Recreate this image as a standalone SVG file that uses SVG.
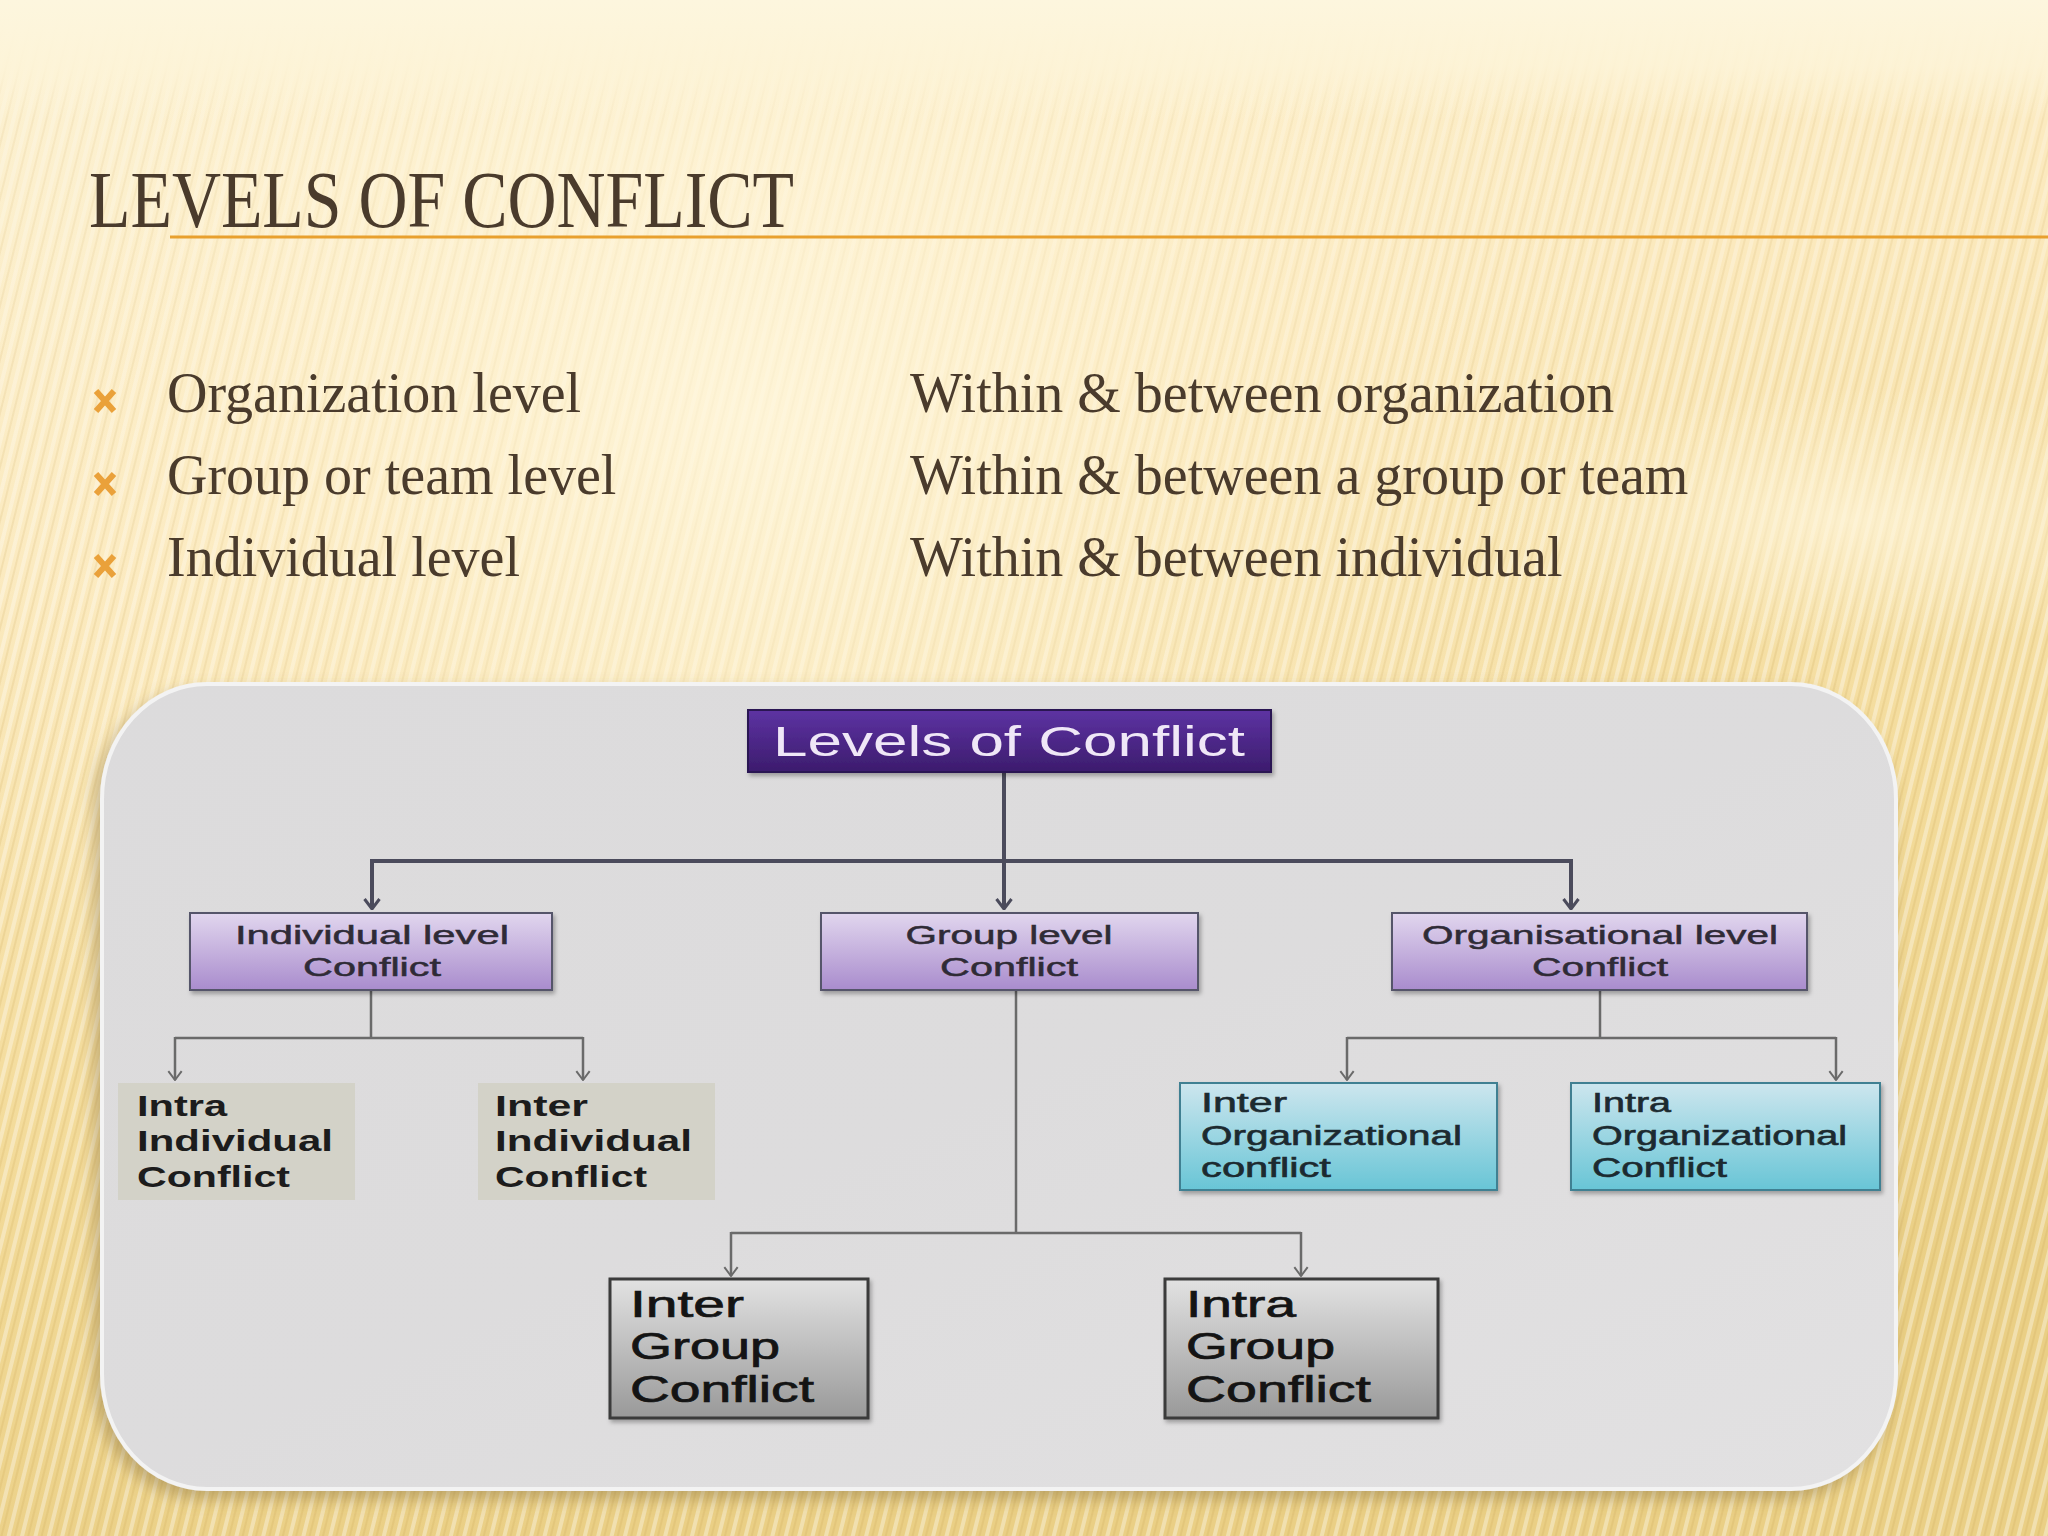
<svg xmlns="http://www.w3.org/2000/svg" width="2048" height="1536" viewBox="0 0 2048 1536">
  <defs>
    <linearGradient id="bgGrad" x1="0" y1="0" x2="0.25" y2="1">
      <stop offset="0" stop-color="#fdf5dc"/>
      <stop offset="0.07" stop-color="#fcf0cf"/>
      <stop offset="0.35" stop-color="#fbe9bd"/>
      <stop offset="0.7" stop-color="#f3db9a"/>
      <stop offset="1" stop-color="#eacf85"/>
    </linearGradient>
    <linearGradient id="topBand" x1="0" y1="0" x2="0" y2="1">
      <stop offset="0" stop-color="#fdf6de" stop-opacity="1"/>
      <stop offset="0.55" stop-color="#fdf4d8" stop-opacity="0.85"/>
      <stop offset="1" stop-color="#fdf4d8" stop-opacity="0"/>
    </linearGradient>
    <radialGradient id="glow" cx="750" cy="420" r="900" gradientUnits="userSpaceOnUse">
      <stop offset="0" stop-color="#fff8e0" stop-opacity="0.75"/>
      <stop offset="0.6" stop-color="#fff4d6" stop-opacity="0.25"/>
      <stop offset="1" stop-color="#fff4d6" stop-opacity="0"/>
    </radialGradient>
    <radialGradient id="swoosh" cx="1850" cy="520" r="380" gradientUnits="userSpaceOnUse" gradientTransform="translate(1850 520) scale(1 0.35) translate(-1850 -520)">
      <stop offset="0" stop-color="#fff6dc" stop-opacity="0.7"/>
      <stop offset="1" stop-color="#fff6dc" stop-opacity="0"/>
    </radialGradient>
    <pattern id="stripes" width="13" height="60" patternUnits="userSpaceOnUse" patternTransform="rotate(14)">
      <line x1="3" y1="0" x2="3" y2="60" stroke="#ffffff" stroke-width="4" stroke-opacity="0.35"/>
      <line x1="9" y1="0" x2="9" y2="60" stroke="#c9a24e" stroke-width="2" stroke-opacity="0.18"/>
    </pattern>
    <linearGradient id="stripeFade" x1="0" y1="0" x2="0" y2="1">
      <stop offset="0" stop-color="#fff" stop-opacity="0"/>
      <stop offset="0.06" stop-color="#fff" stop-opacity="0.6"/>
      <stop offset="0.4" stop-color="#fff" stop-opacity="1"/>
      <stop offset="1" stop-color="#fff" stop-opacity="1"/>
    </linearGradient>
    <mask id="stripeMask">
      <rect x="0" y="0" width="2048" height="1536" fill="url(#stripeFade)"/>
    </mask>
    <linearGradient id="panelGrad" x1="0" y1="0" x2="1" y2="1">
      <stop offset="0" stop-color="#dcdbdc"/>
      <stop offset="0.5" stop-color="#dddcdd"/>
      <stop offset="1" stop-color="#e2e1e2"/>
    </linearGradient>
    <filter id="panelShadow" x="-5%" y="-5%" width="110%" height="112%">
      <feGaussianBlur in="SourceAlpha" stdDeviation="8"/>
      <feOffset dx="-6" dy="8" result="b"/>
      <feFlood flood-color="#8a7340" flood-opacity="0.45"/>
      <feComposite in2="b" operator="in"/>
      <feMerge><feMergeNode/><feMergeNode in="SourceGraphic"/></feMerge>
    </filter>
    <filter id="boxShadow" x="-5%" y="-10%" width="115%" height="130%">
      <feGaussianBlur in="SourceAlpha" stdDeviation="2"/>
      <feOffset dx="2" dy="3" result="b"/>
      <feFlood flood-color="#000" flood-opacity="0.3"/>
      <feComposite in2="b" operator="in"/>
      <feMerge><feMergeNode/><feMergeNode in="SourceGraphic"/></feMerge>
    </filter>
    <linearGradient id="topGrad" x1="0" y1="0" x2="0" y2="1">
      <stop offset="0" stop-color="#5d33a3"/>
      <stop offset="1" stop-color="#3c1c6d"/>
    </linearGradient>
    <linearGradient id="lvlGrad" x1="0" y1="0" x2="0" y2="1">
      <stop offset="0" stop-color="#e1d6ee"/>
      <stop offset="1" stop-color="#a98ccd"/>
    </linearGradient>
    <linearGradient id="orgGrad" x1="0" y1="0" x2="0" y2="1">
      <stop offset="0" stop-color="#cde6ee"/>
      <stop offset="1" stop-color="#68c5d6"/>
    </linearGradient>
    <linearGradient id="grpGrad" x1="0" y1="0" x2="0" y2="1">
      <stop offset="0" stop-color="#e2e2e2"/>
      <stop offset="1" stop-color="#999999"/>
    </linearGradient>
    <marker id="arrowBig" viewBox="0 0 12 18" refX="11" refY="9" markerWidth="12" markerHeight="18" markerUnits="userSpaceOnUse" orient="auto">
      <path d="M1,1.5 L11,9 L1,16.5" fill="none" stroke="#4b4b5c" stroke-width="3"/>
    </marker>
    <marker id="arrowSmall" viewBox="0 0 12 18" refX="11" refY="9" markerWidth="11" markerHeight="16" markerUnits="userSpaceOnUse" orient="auto">
      <path d="M1,1.5 L11,9 L1,16.5" fill="none" stroke="#6a6a6a" stroke-width="2.2"/>
    </marker>
    <style>
      .slide { font-family: "Liberation Serif", "Times New Roman", serif; fill: #4a3b2c; }
      .bullet { stroke: #eaa13a; stroke-width: 6; stroke-linecap: butt; }
      .lbl { font-family: "Liberation Sans", Arial, sans-serif; }
      .top-t { fill: #efe7f7; font-size: 42px; font-weight: 400; }
      .lvl-t { fill: #2f2b36; stroke: #2f2b36; stroke-width: 0.5; font-size: 26px; font-weight: 400; text-anchor: middle; }
      .ind-t { fill: #1c1c1c; font-size: 30px; font-weight: 700; }
      .org-t { fill: #1c2a30; stroke: #1c2a30; stroke-width: 0.6; font-size: 27px; font-weight: 400; }
      .grp-t { fill: #141414; stroke: #141414; stroke-width: 0.7; font-size: 36px; font-weight: 400; }
      .c-main { fill: none; stroke: #4b4b5c; stroke-width: 4; }
      .c-sub { fill: none; stroke: #6a6a6a; stroke-width: 2.5; }
    </style>
  </defs>

  <!-- Background -->
  <rect x="0" y="0" width="2048" height="1536" fill="url(#bgGrad)"/>
  <rect x="0" y="0" width="2048" height="1536" fill="url(#stripes)" mask="url(#stripeMask)"/>
  <rect x="0" y="0" width="2048" height="1536" fill="url(#glow)"/>
  <rect x="0" y="0" width="2048" height="1536" fill="url(#swoosh)"/>
  <rect x="0" y="0" width="2048" height="120" fill="url(#topBand)"/>

  <!-- Title -->
  <g id="title">
    <text class="slide" x="89" y="227" font-size="80" textLength="705" lengthAdjust="spacingAndGlyphs">LEVELS OF CONFLICT</text>
    <line x1="170" y1="237" x2="2048" y2="237" stroke="#e8a02e" stroke-width="3"/>
  </g>

  <!-- Bullets -->
  <g id="bullets">
    <path class="bullet" d="M96,391 L114,411 M114,391 L96,411"/>
    <path class="bullet" d="M96,474 L114,494 M114,474 L96,494"/>
    <path class="bullet" d="M96,556 L114,576 M114,556 L96,576"/>
    <text class="slide" x="167" y="412" font-size="56">Organization level</text>
    <text class="slide" x="167" y="494" font-size="56">Group or team level</text>
    <text class="slide" x="167" y="576" font-size="56">Individual level</text>
    <text class="slide" x="910" y="412" font-size="56">Within &amp; between organization</text>
    <text class="slide" x="910" y="494" font-size="56">Within &amp; between a group or team</text>
    <text class="slide" x="910" y="576" font-size="56">Within &amp; between individual</text>
  </g>

  <!-- Panel -->
  <g id="panel">
    <rect x="102" y="684" width="1794" height="805" rx="105" ry="115" fill="url(#panelGrad)" stroke="#f3f3f3" stroke-width="4" filter="url(#panelShadow)"/>
  </g>

  <!-- Connectors -->
  <g id="connectors">
    <path class="c-main" d="M1004,772 V909" marker-end="url(#arrowBig)"/>
    <path class="c-main" d="M372,861 H1571"/>
    <path class="c-main" d="M372,859 V909" marker-end="url(#arrowBig)"/>
    <path class="c-main" d="M1571,859 V909" marker-end="url(#arrowBig)"/>

    <path class="c-sub" d="M371,990 V1038"/>
    <path class="c-sub" d="M175,1038 H583"/>
    <path class="c-sub" d="M175,1037 V1080" marker-end="url(#arrowSmall)"/>
    <path class="c-sub" d="M583,1037 V1080" marker-end="url(#arrowSmall)"/>

    <path class="c-sub" d="M1016,990 V1233"/>
    <path class="c-sub" d="M731,1233 H1301"/>
    <path class="c-sub" d="M731,1232 V1276" marker-end="url(#arrowSmall)"/>
    <path class="c-sub" d="M1301,1232 V1276" marker-end="url(#arrowSmall)"/>

    <path class="c-sub" d="M1600,990 V1038"/>
    <path class="c-sub" d="M1347,1038 H1836"/>
    <path class="c-sub" d="M1347,1037 V1080" marker-end="url(#arrowSmall)"/>
    <path class="c-sub" d="M1836,1037 V1080" marker-end="url(#arrowSmall)"/>
  </g>

  <!-- Nodes -->
  <g id="node-root">
    <rect x="748" y="710" width="523" height="62" fill="url(#topGrad)" stroke="#2c1552" stroke-width="2" filter="url(#boxShadow)"/>
    <text class="lbl top-t" x="773" y="756" textLength="472" lengthAdjust="spacingAndGlyphs">Levels of Conflict</text>
  </g>

  <g id="node-individual">
    <rect x="190" y="913" width="362" height="77" fill="url(#lvlGrad)" stroke="#55556a" stroke-width="2" filter="url(#boxShadow)"/>
    <text class="lbl lvl-t" x="372" y="944" textLength="274" lengthAdjust="spacingAndGlyphs">Individual level</text>
    <text class="lbl lvl-t" x="372" y="976" textLength="138" lengthAdjust="spacingAndGlyphs">Conflict</text>
  </g>

  <g id="node-group">
    <rect x="821" y="913" width="377" height="77" fill="url(#lvlGrad)" stroke="#55556a" stroke-width="2" filter="url(#boxShadow)"/>
    <text class="lbl lvl-t" x="1009" y="944" textLength="207" lengthAdjust="spacingAndGlyphs">Group level</text>
    <text class="lbl lvl-t" x="1009" y="976" textLength="138" lengthAdjust="spacingAndGlyphs">Conflict</text>
  </g>

  <g id="node-organisational">
    <rect x="1392" y="913" width="415" height="77" fill="url(#lvlGrad)" stroke="#55556a" stroke-width="2" filter="url(#boxShadow)"/>
    <text class="lbl lvl-t" x="1600" y="944" textLength="356" lengthAdjust="spacingAndGlyphs">Organisational level</text>
    <text class="lbl lvl-t" x="1600" y="976" textLength="136" lengthAdjust="spacingAndGlyphs">Conflict</text>
  </g>

  <g id="node-intra-individual">
    <rect x="118" y="1083" width="237" height="117" fill="#d3d2c8"/>
    <text class="lbl ind-t" x="137" y="1116" textLength="90" lengthAdjust="spacingAndGlyphs">Intra</text>
    <text class="lbl ind-t" x="137" y="1151" textLength="196" lengthAdjust="spacingAndGlyphs">Individual</text>
    <text class="lbl ind-t" x="137" y="1187" textLength="153" lengthAdjust="spacingAndGlyphs">Conflict</text>
  </g>

  <g id="node-inter-individual">
    <rect x="478" y="1083" width="237" height="117" fill="#d3d2c8"/>
    <text class="lbl ind-t" x="495" y="1116" textLength="93" lengthAdjust="spacingAndGlyphs">Inter</text>
    <text class="lbl ind-t" x="495" y="1151" textLength="197" lengthAdjust="spacingAndGlyphs">Individual</text>
    <text class="lbl ind-t" x="495" y="1187" textLength="152" lengthAdjust="spacingAndGlyphs">Conflict</text>
  </g>

  <g id="node-inter-organizational">
    <rect x="1180" y="1083" width="317" height="107" fill="url(#orgGrad)" stroke="#3f8092" stroke-width="2" filter="url(#boxShadow)"/>
    <text class="lbl org-t" x="1201" y="1112" textLength="86" lengthAdjust="spacingAndGlyphs">Inter</text>
    <text class="lbl org-t" x="1201" y="1145" textLength="261" lengthAdjust="spacingAndGlyphs">Organizational</text>
    <text class="lbl org-t" x="1201" y="1177" textLength="130" lengthAdjust="spacingAndGlyphs">conflict</text>
  </g>

  <g id="node-intra-organizational">
    <rect x="1571" y="1083" width="309" height="107" fill="url(#orgGrad)" stroke="#3f8092" stroke-width="2" filter="url(#boxShadow)"/>
    <text class="lbl org-t" x="1592" y="1112" textLength="79" lengthAdjust="spacingAndGlyphs">Intra</text>
    <text class="lbl org-t" x="1592" y="1145" textLength="255" lengthAdjust="spacingAndGlyphs">Organizational</text>
    <text class="lbl org-t" x="1592" y="1177" textLength="135" lengthAdjust="spacingAndGlyphs">Conflict</text>
  </g>

  <g id="node-inter-group">
    <rect x="610" y="1279" width="258" height="139" fill="url(#grpGrad)" stroke="#3a3a3a" stroke-width="3" filter="url(#boxShadow)"/>
    <text class="lbl grp-t" x="630" y="1317" textLength="114" lengthAdjust="spacingAndGlyphs">Inter</text>
    <text class="lbl grp-t" x="630" y="1359" textLength="150" lengthAdjust="spacingAndGlyphs">Group</text>
    <text class="lbl grp-t" x="630" y="1402" textLength="184" lengthAdjust="spacingAndGlyphs">Conflict</text>
  </g>

  <g id="node-intra-group">
    <rect x="1165" y="1279" width="273" height="139" fill="url(#grpGrad)" stroke="#3a3a3a" stroke-width="3" filter="url(#boxShadow)"/>
    <text class="lbl grp-t" x="1186" y="1317" textLength="110" lengthAdjust="spacingAndGlyphs">Intra</text>
    <text class="lbl grp-t" x="1186" y="1359" textLength="149" lengthAdjust="spacingAndGlyphs">Group</text>
    <text class="lbl grp-t" x="1186" y="1402" textLength="185" lengthAdjust="spacingAndGlyphs">Conflict</text>
  </g>
</svg>
